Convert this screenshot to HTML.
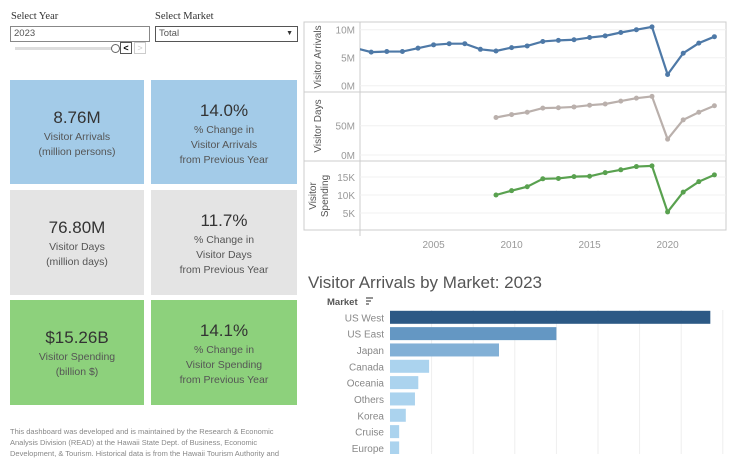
<!DOCTYPE html>
<html><head><meta charset="utf-8">
<style>
body{margin:0;width:736px;height:454px;overflow:hidden;background:#fff;font-family:"Liberation Sans",sans-serif;position:relative}
.abs{position:absolute}
.card{position:absolute;text-align:center;color:#555;font-size:10.5px;line-height:15px;box-sizing:border-box}
.card .big{font-size:17px;color:#333;line-height:22px;margin-bottom:1px}
.lbl{font-family:"Liberation Serif",serif;font-size:10.5px;color:#333}
</style></head><body>
<div class="abs lbl" style="left:11px;top:11px">Select Year</div>
<div class="abs" style="left:10px;top:26px;width:135px;height:14px;border:1px solid #888;font-size:9.5px;color:#555;line-height:14px;padding-left:3px;box-sizing:content-box">2023</div>
<div class="abs" style="left:15px;top:47px;width:98px;height:3px;background:#ddd"></div>
<div class="abs" style="left:111px;top:44px;width:7px;height:7px;border:1px solid #666;border-radius:50%;background:#fff"></div>
<div class="abs" style="left:120px;top:42px;width:10px;height:10px;border:1px solid #555;font-size:9px;line-height:10px;text-align:center;font-weight:bold">&lt;</div>
<div class="abs" style="left:134px;top:42px;width:10px;height:10px;border:1px solid #ccc;color:#ccc;font-size:9px;line-height:10px;text-align:center">&gt;</div>
<div class="abs lbl" style="left:155px;top:11px">Select Market</div>
<div class="abs" style="left:155px;top:26px;width:138px;height:14px;border:1px solid #555;font-size:9.5px;color:#555;line-height:14px;padding-left:3px">Total<span style="position:absolute;right:4px;font-size:7px;color:#333">▼</span></div>

<div class="card" style="left:10px;top:80px;width:134px;height:104px;background:#a3cbe8;padding-top:27px"><div class="big">8.76M</div>Visitor Arrivals<br>(million persons)</div>
<div class="card" style="left:151px;top:80px;width:146px;height:104px;background:#a3cbe8;padding-top:20px"><div class="big">14.0%</div>% Change in<br>Visitor Arrivals<br>from Previous Year</div>
<div class="card" style="left:10px;top:190px;width:134px;height:105px;background:#e4e4e4;padding-top:27px"><div class="big">76.80M</div>Visitor Days<br>(million days)</div>
<div class="card" style="left:151px;top:190px;width:146px;height:105px;background:#e4e4e4;padding-top:20px"><div class="big">11.7%</div>% Change in<br>Visitor Days<br>from Previous Year</div>
<div class="card" style="left:10px;top:300px;width:134px;height:105px;background:#8dd17c;padding-top:27px"><div class="big">$15.26B</div>Visitor Spending<br>(billion $)</div>
<div class="card" style="left:151px;top:300px;width:146px;height:105px;background:#8dd17c;padding-top:20px"><div class="big">14.1%</div>% Change in<br>Visitor Spending<br>from Previous Year</div>

<div class="abs" style="left:10px;top:426px;width:290px;font-size:7.5px;line-height:11px;color:#888">This dashboard was developed and is maintained by the Research &amp; Economic Analysis Division (READ) at the Hawaii State Dept. of Business, Economic Development, &amp; Tourism. Historical data is from the Hawaii Tourism Authority and</div>

<svg class="abs" style="left:0;top:0" width="736" height="454" id="svg"></svg>
<script>
const years=[2000,2001,2002,2003,2004,2005,2006,2007,2008,2009,2010,2011,2012,2013,2014,2015,2016,2017,2018,2019,2020,2021,2022,2023];
const arrivals=[6.7,6.0,6.1,6.1,6.7,7.3,7.5,7.5,6.5,6.2,6.8,7.1,7.9,8.1,8.2,8.6,8.9,9.5,10.0,10.5,2.0,5.8,7.6,8.75];
const daysYears=[2009,2010,2011,2012,2013,2014,2015,2016,2017,2018,2019,2020,2021,2022,2023];
const days=[64,69,73,80,80.7,82,85,87,92,97,100,27,60,73,84];
const spending=[10,11.2,12.3,14.5,14.6,15.1,15.2,16.2,17.0,17.9,18.1,5.3,10.8,13.7,15.6];
const yearTicks=[2005,2010,2015,2020];
const arrTicks=[0,5,10],arrTickLbl=["0M","5M","10M"];
const dayTicks=[0,50],dayTickLbl=["0M","50M"];
const spTicks=[5,10,15],spTickLbl=["5K","10K","15K"];
const markets=["US West","US East","Japan","Canada","Oceania","Others","Korea","Cruise","Europe"];
const marketVals=[3.85,2.0,1.31,0.47,0.34,0.30,0.19,0.11,0.11];
const marketColors=["#2c5985","#6497c3","#82b0d6","#abd3ee","#abd3ee","#abd3ee","#abd3ee","#abd3ee","#abd3ee"];
const barGridTicks=[0.5,1,1.5,2,2.5,3,3.5,4];

const S=document.getElementById('svg'),NS='http://www.w3.org/2000/svg';
function mk(t,a,p){const e=document.createElementNS(NS,t);for(const k in a)e.setAttribute(k,a[k]);(p||S).appendChild(e);return e;}
const X=y=>355.6+(y-2000)*15.6;
const yA=v=>85.7-v*5.6, yD=v=>155-v*0.586, yS=v=>231-v*3.6;
// panel frames
[[22,92],[92,161],[161,230]].forEach(function(p,i){
 const r=mk('rect',{x:304,y:p[0],width:422,height:p[1]-p[0],fill:'none',stroke:'#ccc','stroke-width':1});
 
 
});
mk('line',{x1:360,y1:22,x2:360,y2:236,stroke:'#ccc'});
function axis(ticks,lbls,fy,name){
 ticks.forEach(function(t,i){
  mk('line',{x1:360,x2:726,y1:fy(t),y2:fy(t),stroke:'#f0f0f0'});
  const tx=mk('text',{x:355,y:fy(t)+4,'text-anchor':'end','font-size':10,fill:'#999'});
  tx.textContent=lbls[i];
  
  
 });
}
axis(arrTicks,arrTickLbl,yA,'arrivals-y');
axis(dayTicks,dayTickLbl,yD,'days-y');
axis(spTicks,spTickLbl,yS,'spending-y');
function vt(txt,x,y,name){const t=mk('text',{transform:'translate('+x+','+y+') rotate(-90)','text-anchor':'middle','font-size':10,fill:'#555'});t.textContent=txt;
 
 }
vt('Visitor Arrivals',321,57,'arrivals-axis-title');
vt('Visitor Days',321,126,'days-axis-title');
vt('Visitor',316,196,'spending-axis-title');
vt('Spending',328,196,'spending-axis-title-2');
yearTicks.forEach(function(y){const t=mk('text',{x:X(y),y:248,'text-anchor':'middle','font-size':10,fill:'#999'});t.textContent=y;
 
 });
function series(xs,vs,fy,col,name,clip){
 const g=mk('g',{});
 if(clip)g.setAttribute('clip-path','url(#c1)');
 
 
 mk('polyline',{points:xs.map((x,i)=>X(x)+','+fy(vs[i])).join(' '),fill:'none',stroke:col,'stroke-width':2.2},g);
 xs.forEach(function(x,i){const c=mk('circle',{cx:X(x),cy:fy(vs[i]),r:2.5,fill:col},g);
  
  });
}
const d=mk('defs',{});const cp=mk('clipPath',{id:'c1'},d);mk('rect',{x:360,y:20,width:370,height:80},cp);
series(years,arrivals,yA,'#4e79a7','arrivals-line',true);
series(daysYears,days,yD,'#bab0ac','days-line');
series(daysYears,spending,yS,'#59a14f','spending-line');

// bar chart
const t=mk('text',{x:308,y:288,'font-size':17,fill:'#555'});t.textContent='Visitor Arrivals by Market: 2023';


const ml=mk('text',{x:327,y:305,'font-size':9.5,'font-weight':'bold',fill:'#555'});ml.textContent='Market';


mk('path',{d:'M366 298h7M366 301h5M366 304h3',stroke:'#555','stroke-width':1.2});
const BX=v=>390+v*83.2;
barGridTicks.forEach(v=>mk('line',{x1:BX(v),x2:BX(v),y1:310,y2:454,stroke:'#eee'}));
markets.forEach(function(m,i){
 const cy=317.3+i*16.33;
 const r=mk('rect',{x:390,y:cy-6.5,width:BX(marketVals[i])-390,height:13,fill:marketColors[i]});
 
 
 const l=mk('text',{x:384,y:cy+4,'text-anchor':'end','font-size':10,fill:'#888'});l.textContent=m;
 
 
});
</script>
</body></html>
